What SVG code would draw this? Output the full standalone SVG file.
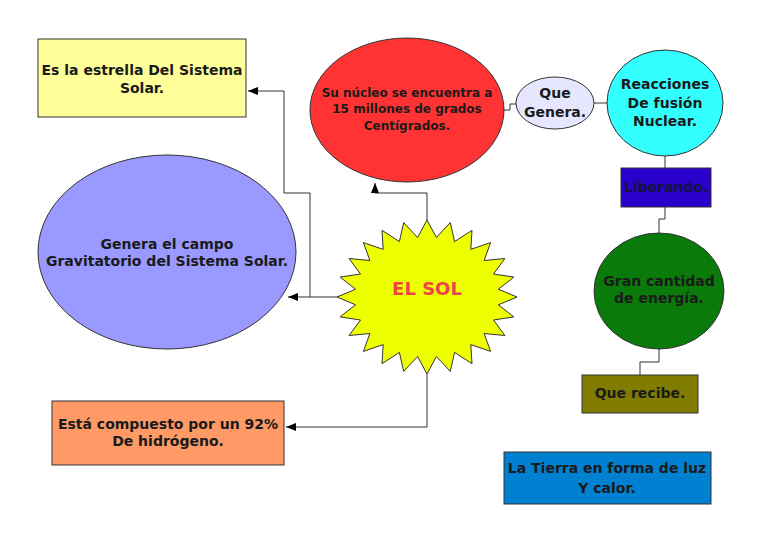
<svg xmlns="http://www.w3.org/2000/svg" width="768" height="543" viewBox="0 0 768 543">
<defs>
<marker id="arr" viewBox="0 0 10 8" refX="10" refY="4" markerWidth="10" markerHeight="8" markerUnits="userSpaceOnUse" orient="auto">
<path d="M0,0 L10,4 L0,8 Z" fill="#000"/>
</marker>
<style>
.shape{stroke:#333;stroke-width:1}
.t{font-family:"DejaVu Sans",sans-serif;font-weight:bold;font-size:14px;fill:#1a1a1a;text-anchor:middle}
.s{font-size:12px}
.conn path{fill:none;stroke:#333;stroke-width:1}
</style>
</defs>
<rect width="768" height="543" fill="#fff"/>
<g class="conn" id="connectors">
<path d="M337,297 H288" marker-end="url(#arr)"/>
<path d="M310,297 V193 H284 V91 H248" marker-end="url(#arr)"/>
<path d="M427,220 V193 H375 V183" marker-end="url(#arr)"/>
<path d="M427,374 V427 H286" marker-end="url(#arr)"/>
<path d="M504,110 H510 V104 H517"/>
<path d="M594,103 H607"/>
<path d="M665,156 V168"/>
<path d="M665,207 V219 H659 V233"/>
<path d="M659,349 V362 H640 V375"/>
</g>
<g id="n-estrella">
<rect class="shape" x="38" y="39" width="208" height="78" fill="#ffff99"/>
<text class="t" x="142" y="75">Es la estrella Del Sistema</text>
<text class="t" x="142" y="93">Solar.</text>
</g>
<g id="n-gravitatorio">
<ellipse class="shape" cx="167" cy="252" rx="129" ry="97" fill="#9999ff"/>
<text class="t" x="167" y="249">Genera el campo</text>
<text class="t" x="167" y="266">Gravitatorio del Sistema Solar.</text>
</g>
<g id="n-nucleo">
<ellipse class="shape" cx="407" cy="110" rx="97" ry="72" fill="#ff3333"/>
<text class="t s" x="407" y="97">Su núcleo se encuentra a</text>
<text class="t s" x="407" y="113">15 millones de grados</text>
<text class="t s" x="407" y="130">Centígrados.</text>
</g>
<g id="n-sol">
<polygon class="shape" fill="#eeff00" points="427,220 436.4,237.5 450.3,222.6 454.6,241.6 472,230.3 470.8,249.4 490.6,242.6 484.1,260.5 504.9,258.5 493.5,274 513.9,277.1 498.4,289.2 517,297 498.4,304.8 513.9,316.9 493.5,320 504.9,335.5 484.1,333.5 490.6,351.4 470.8,344.6 472,363.7 454.6,352.4 450.3,371.4 436.4,356.5 427,374 417.6,356.5 403.7,371.4 399.4,352.4 382,363.7 383.2,344.6 363.4,351.4 369.9,333.5 349.1,335.5 360.5,320 340.1,316.9 355.6,304.8 337,297 355.6,289.2 340.1,277.1 360.5,274 349.1,258.5 369.9,260.5 363.4,242.6 383.2,249.4 382,230.3 399.4,241.6 403.7,222.6 417.6,237.5"/>
<text class="t" x="427" y="295" style="font-size:18px;fill:#ee4444">EL SOL</text>
</g>
<g id="n-hidrogeno">
<rect class="shape" x="52" y="401" width="232" height="64" fill="#ff9966"/>
<text class="t" x="168" y="429">Está compuesto por un 92%</text>
<text class="t" x="168" y="446">De hidrógeno.</text>
</g>
<g id="n-genera">
<ellipse class="shape" cx="555" cy="103" rx="39" ry="26" fill="#e6e6ff"/>
<text class="t" x="555" y="98">Que</text>
<text class="t" x="555" y="117">Genera.</text>
</g>
<g id="n-fusion">
<ellipse class="shape" cx="665" cy="103" rx="58" ry="53" fill="#33ffff"/>
<text class="t" x="665" y="89">Reacciones</text>
<text class="t" x="665" y="108">De fusión</text>
<text class="t" x="665" y="126">Nuclear.</text>
</g>
<g id="n-liberando">
<rect class="shape" x="621" y="168" width="90" height="39" fill="#2a00cc"/>
<text class="t" x="666" y="192" style="fill:#14143c">Liberando.</text>
</g>
<g id="n-energia">
<ellipse class="shape" cx="659" cy="291" rx="65" ry="58" fill="#0a7a0a"/>
<text class="t" x="659" y="286">Gran cantidad</text>
<text class="t" x="659" y="303">de energía.</text>
</g>
<g id="n-recibe">
<rect class="shape" x="582" y="375" width="116" height="38" fill="#807c00"/>
<text class="t" x="640" y="398">Que recibe.</text>
</g>
<g id="n-tierra">
<rect class="shape" x="504" y="452" width="207" height="52" fill="#0080d0"/>
<text class="t" x="607" y="473">La Tierra en forma de luz</text>
<text class="t" x="607" y="493">Y calor.</text>
</g>
</svg>
